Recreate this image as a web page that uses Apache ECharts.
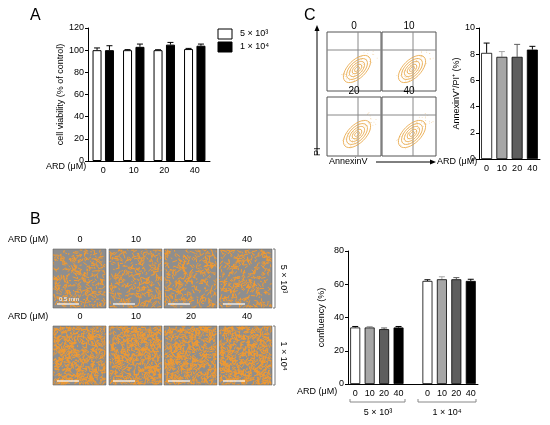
<!DOCTYPE html>
<html><head><meta charset="utf-8">
<script src="https://cdn.jsdelivr.net/npm/echarts@6/dist/echarts.min.js"></script>
<style>html,body{margin:0;background:#fff}#c{width:550px;height:425px}</style>
</head><body><div id="c"></div>
<script>
// panel A: cell viability
var doseLabels = ['0', '10', '20', '40'];
var viabLow = [100, 100, 100, 101];
var viabLowErr = [2, 0.5, 0.4, 0.6];
var viabHigh = [100, 103, 105, 104];
var viabHighErr = [4, 2.5, 2, 1.5];
// panel C: AnnexinV+/PI+
var apopVals = [8.1, 7.8, 7.8, 8.35];
var apopErr = [0.75, 0.4, 0.95, 0.25];
// panel B: confluency (two seeding densities, gap in between)
var confLabels = ['0', '10', '20', '40', '', '0', '10', '20', '40'];
var confVals = [34, 34, 33, 34, '-', 62, 63, 63, 62];
var confErr = [0.6, 0.6, 0.7, 0.6, 0, 0.7, 1.5, 1, 1];
var doseColors = ['#ffffff', '#a6a6a6', '#5e5e5e', '#000000'];

var FONT = 'Liberation Sans';
var chart = echarts.init(document.getElementById('c'));

function errBars(gi, vals, errs, offset, colors) {
    return {
        type: 'custom', xAxisIndex: gi, yAxisIndex: gi, z: 1,
        data: vals.map(function (v, i) { return v === '-' ? [i, 0, 0] : [i, v, v + errs[i]]; }),
        renderItem: function (params, api) {
            if (api.value(2) === 0) return;
            var p = api.coord([api.value(0), api.value(1)]);
            var q = api.coord([api.value(0), api.value(2)]);
            var x = p[0] + offset;
            var c = colors ? colors[params.dataIndex] : '#000';
            return {
                type: 'group', children: [
                    {type: 'line', shape: {x1: x, y1: p[1], x2: x, y2: q[1]}, style: {stroke: c, lineWidth: 1}},
                    {type: 'line', shape: {x1: x - 3, y1: q[1], x2: x + 3, y2: q[1]}, style: {stroke: c, lineWidth: 1}}
                ]
            };
        }
    };
}

function yAx(gi, max, interval, name, gap) {
    return {
        type: 'value', gridIndex: gi, min: 0, max: max, interval: interval,
        name: name, nameLocation: 'middle', nameGap: gap,
        nameTextStyle: {fontFamily: FONT, fontSize: 9, color: '#000'},
        axisLine: {show: true, lineStyle: {color: '#000'}},
        axisTick: {show: true, length: 3, lineStyle: {color: '#000'}},
        axisLabel: {fontFamily: FONT, fontSize: 9, color: '#000', margin: 4},
        splitLine: {show: false}
    };
}
function xAx(gi, data) {
    return {
        type: 'category', gridIndex: gi, data: data,
        axisLine: {lineStyle: {color: '#000'}}, axisTick: {show: false},
        axisLabel: {fontFamily: FONT, fontSize: 9, color: '#000', margin: 5}
    };
}

// texture canvas for micrographs (decorative)
function hash(a, b) { return Math.abs(Math.sin(a * 12.9898 + b * 78.233) * 43758.5453) % 1; }
function texture(density, seed) {
    var cv = document.createElement('canvas');
    cv.width = 53; cv.height = 59;
    var ctx = cv.getContext('2d');
    ctx.fillStyle = '#8e8e8e'; ctx.fillRect(0, 0, 53, 59);
    ctx.strokeStyle = '#f29a30'; ctx.lineWidth = 1;
    var n = Math.round(density * 700);
    for (var i = 0; i < n; i++) {
        var x = hash(i + 1, seed) * 53, y = hash(seed + 3, i + 7) * 59;
        var a = hash(i * 3 + 2, seed * 2) * Math.PI * 2;
        var len = 1.5 + hash(i, seed + 11) * 3.5;
        ctx.beginPath(); ctx.moveTo(x, y);
        ctx.lineTo(x + Math.cos(a) * len, y + Math.sin(a) * len); ctx.stroke();
    }
    return cv;
}

var graphics = [];
function txt(x, y, s, size, extra) {
    var o = {type: 'text', x: x, y: y, style: Object.assign({text: s, font: (size || 9) + 'px ' + FONT, fill: '#000'}, extra || {})};
    graphics.push(o);
    return o;
}
function ln(x1, y1, x2, y2, c, w) {
    graphics.push({type: 'line', shape: {x1: x1, y1: y1, x2: x2, y2: y2}, style: {stroke: c || '#000', lineWidth: w || 1}});
}

// panel letters
txt(30, 8, 'A', 16); txt(30, 212, 'B', 16); txt(304, 8, 'C', 16);
// panel A legend and x name
graphics.push({type: 'rect', shape: {x: 218, y: 29, width: 14, height: 10}, style: {fill: '#fff', stroke: '#000'}});
graphics.push({type: 'rect', shape: {x: 218, y: 42, width: 14, height: 10}, style: {fill: '#000', stroke: '#000'}});
txt(240, 29, '5 × 10³', 9); txt(240, 42, '1 × 10⁴', 9);
txt(46, 162, 'ARD (μM)', 9);

// panel C flow plots
var flowPos = [[327, 32], [382, 32], [327, 97], [382, 97]];
flowPos.forEach(function (p, i) {
    graphics.push({type: 'rect', shape: {x: p[0], y: p[1], width: 54, height: 59}, style: {fill: '#fff', stroke: '#555', lineWidth: 1}});
    for (var k = 0; k < 60; k++) {
        var dx = (hash(k + 1, i + 5) - 0.5) * 40, dy = (hash(i + 9, k + 2) - 0.5) * 14;
        graphics.push({type: 'circle', shape: {cx: p[0] + 33 + dx * 0.72 + dy * 0.7, cy: p[1] + 34 - dx * 0.7 + dy * 0.72, r: 0.4},
            style: {fill: '#e9b870'}});
    }
    ln(p[0] + 31, p[1], p[0] + 31, p[1] + 59, '#888');
    ln(p[0], p[1] + 18, p[0] + 54, p[1] + 18, '#888');
    [[17, 9], [13, 7], [9.5, 5], [6, 3.2], [3, 1.6]].forEach(function (r) {
        graphics.push({type: 'ellipse', x: p[0] + 30, y: p[1] + 37, rotation: Math.PI / 4,
            shape: {cx: 0, cy: 0, rx: r[0], ry: r[1]}, style: {fill: 'none', stroke: '#e8a645', lineWidth: 0.8}});
    });
    txt(p[0] + 27, p[1] - 11, doseLabels[i], 10, {align: 'center'});
});
ln(317, 155, 317, 28);
graphics.push({type: 'polygon', shape: {points: [[314.5, 31], [319.5, 31], [317, 25]]}, style: {fill: '#000'}});
var piT = txt(313, 156, 'PI', 9);
piT.rotation = Math.PI / 2;
txt(329, 157, 'AnnexinV', 9);
ln(376, 162, 430, 162);
graphics.push({type: 'polygon', shape: {points: [[430, 159.5], [430, 164.5], [436, 162]]}, style: {fill: '#000'}});
txt(437, 157, 'ARD (μM)', 9);

// panel B micrographs
var imgX = [53, 109, 164, 219];
var imgLabX = [80, 136, 191, 247];
[[249, 0.55, 1], [326, 1.1, 7]].forEach(function (row, r) {
    txt(8, row[0] - 14, 'ARD (μM)', 9);
    imgX.forEach(function (x, i) {
        txt(imgLabX[i], row[0] - 14, doseLabels[i], 9, {align: 'center'});
        graphics.push({type: 'image', x: x, y: row[0], style: {image: texture(row[1], row[2] + i), width: 53, height: 59}});
        graphics.push({type: 'rect', shape: {x: x, y: row[0], width: 53, height: 59}, style: {fill: 'none', stroke: '#666', lineWidth: 0.6}});
        ln(x + 4, row[0] + 55, x + 26, row[0] + 55, '#fff', 1.2);
    });
    ln(275, row[0], 275, row[0] + 59, '#777');
    ln(273, row[0], 275, row[0], '#777');
    ln(273, row[0] + 59, 275, row[0] + 59, '#777');
    graphics.push({type: 'text', x: 283, y: row[0] + 30, rotation: -Math.PI / 2,
        style: {text: r === 0 ? '5 × 10³' : '1 × 10⁴', font: '9px ' + FONT, fill: '#000', align: 'center', verticalAlign: 'middle'}});
});
txt(59, 296, '0.5 mm', 6, {fill: '#fff'});

// panel B bar chart labels
txt(297, 387, 'ARD (μM)', 9);
ln(350, 399, 350, 402, '#888'); ln(350, 402, 405, 402, '#888'); ln(405, 399, 405, 402, '#888');
ln(418, 399, 418, 402, '#888'); ln(418, 402, 476, 402, '#888'); ln(476, 399, 476, 402, '#888');
txt(378, 408, '5 × 10³', 9, {align: 'center'});
txt(447, 408, '1 × 10⁴', 9, {align: 'center'});

chart.setOption({
    animation: false,
    grid: [
        {left: 88, top: 28, width: 122, height: 133},
        {left: 479, top: 28, width: 61, height: 131},
        {left: 348, top: 251, width: 130, height: 133}
    ],
    xAxis: [xAx(0, doseLabels), xAx(1, doseLabels), xAx(2, confLabels)],
    yAxis: [
        yAx(0, 120, 20, 'cell viability (% of control)', 22),
        yAx(1, 10, 2, 'AnnexinV⁺/PI⁺ (%)', 18),
        yAx(2, 80, 20, 'confluency (%)', 22)
    ],
    series: [
        {type: 'bar', xAxisIndex: 0, yAxisIndex: 0, data: viabLow, barWidth: 9, barGap: '38%',
            itemStyle: {color: '#fff', borderColor: '#000', borderWidth: 1}},
        {type: 'bar', xAxisIndex: 0, yAxisIndex: 0, data: viabHigh, barWidth: 9,
            itemStyle: {color: '#000', borderColor: '#000', borderWidth: 1}},
        errBars(0, viabLow, viabLowErr, -6.2),
        errBars(0, viabHigh, viabHighErr, 6.2),
        {type: 'bar', xAxisIndex: 1, yAxisIndex: 1, barWidth: 11,
            data: apopVals.map(function (v, i) { return {value: v, itemStyle: {color: doseColors[i]}}; }),
            itemStyle: {borderColor: '#000', borderWidth: 0.8}},
        errBars(1, apopVals, apopErr, 0, ['#000', '#a6a6a6', '#5e5e5e', '#000']),
        {type: 'bar', xAxisIndex: 2, yAxisIndex: 2, barWidth: 10,
            data: confVals.map(function (v, i) { return {value: v, itemStyle: {color: doseColors[i > 4 ? i - 5 : i]}}; }),
            itemStyle: {borderColor: '#000', borderWidth: 0.8}},
        errBars(2, confVals, confErr, 0, ['#000', '#a6a6a6', '#5e5e5e', '#000', '#000', '#000', '#a6a6a6', '#5e5e5e', '#000'])
    ],
    graphic: graphics
});
window.addEventListener('resize', function () { chart.resize(); });
</script>
</body></html>
